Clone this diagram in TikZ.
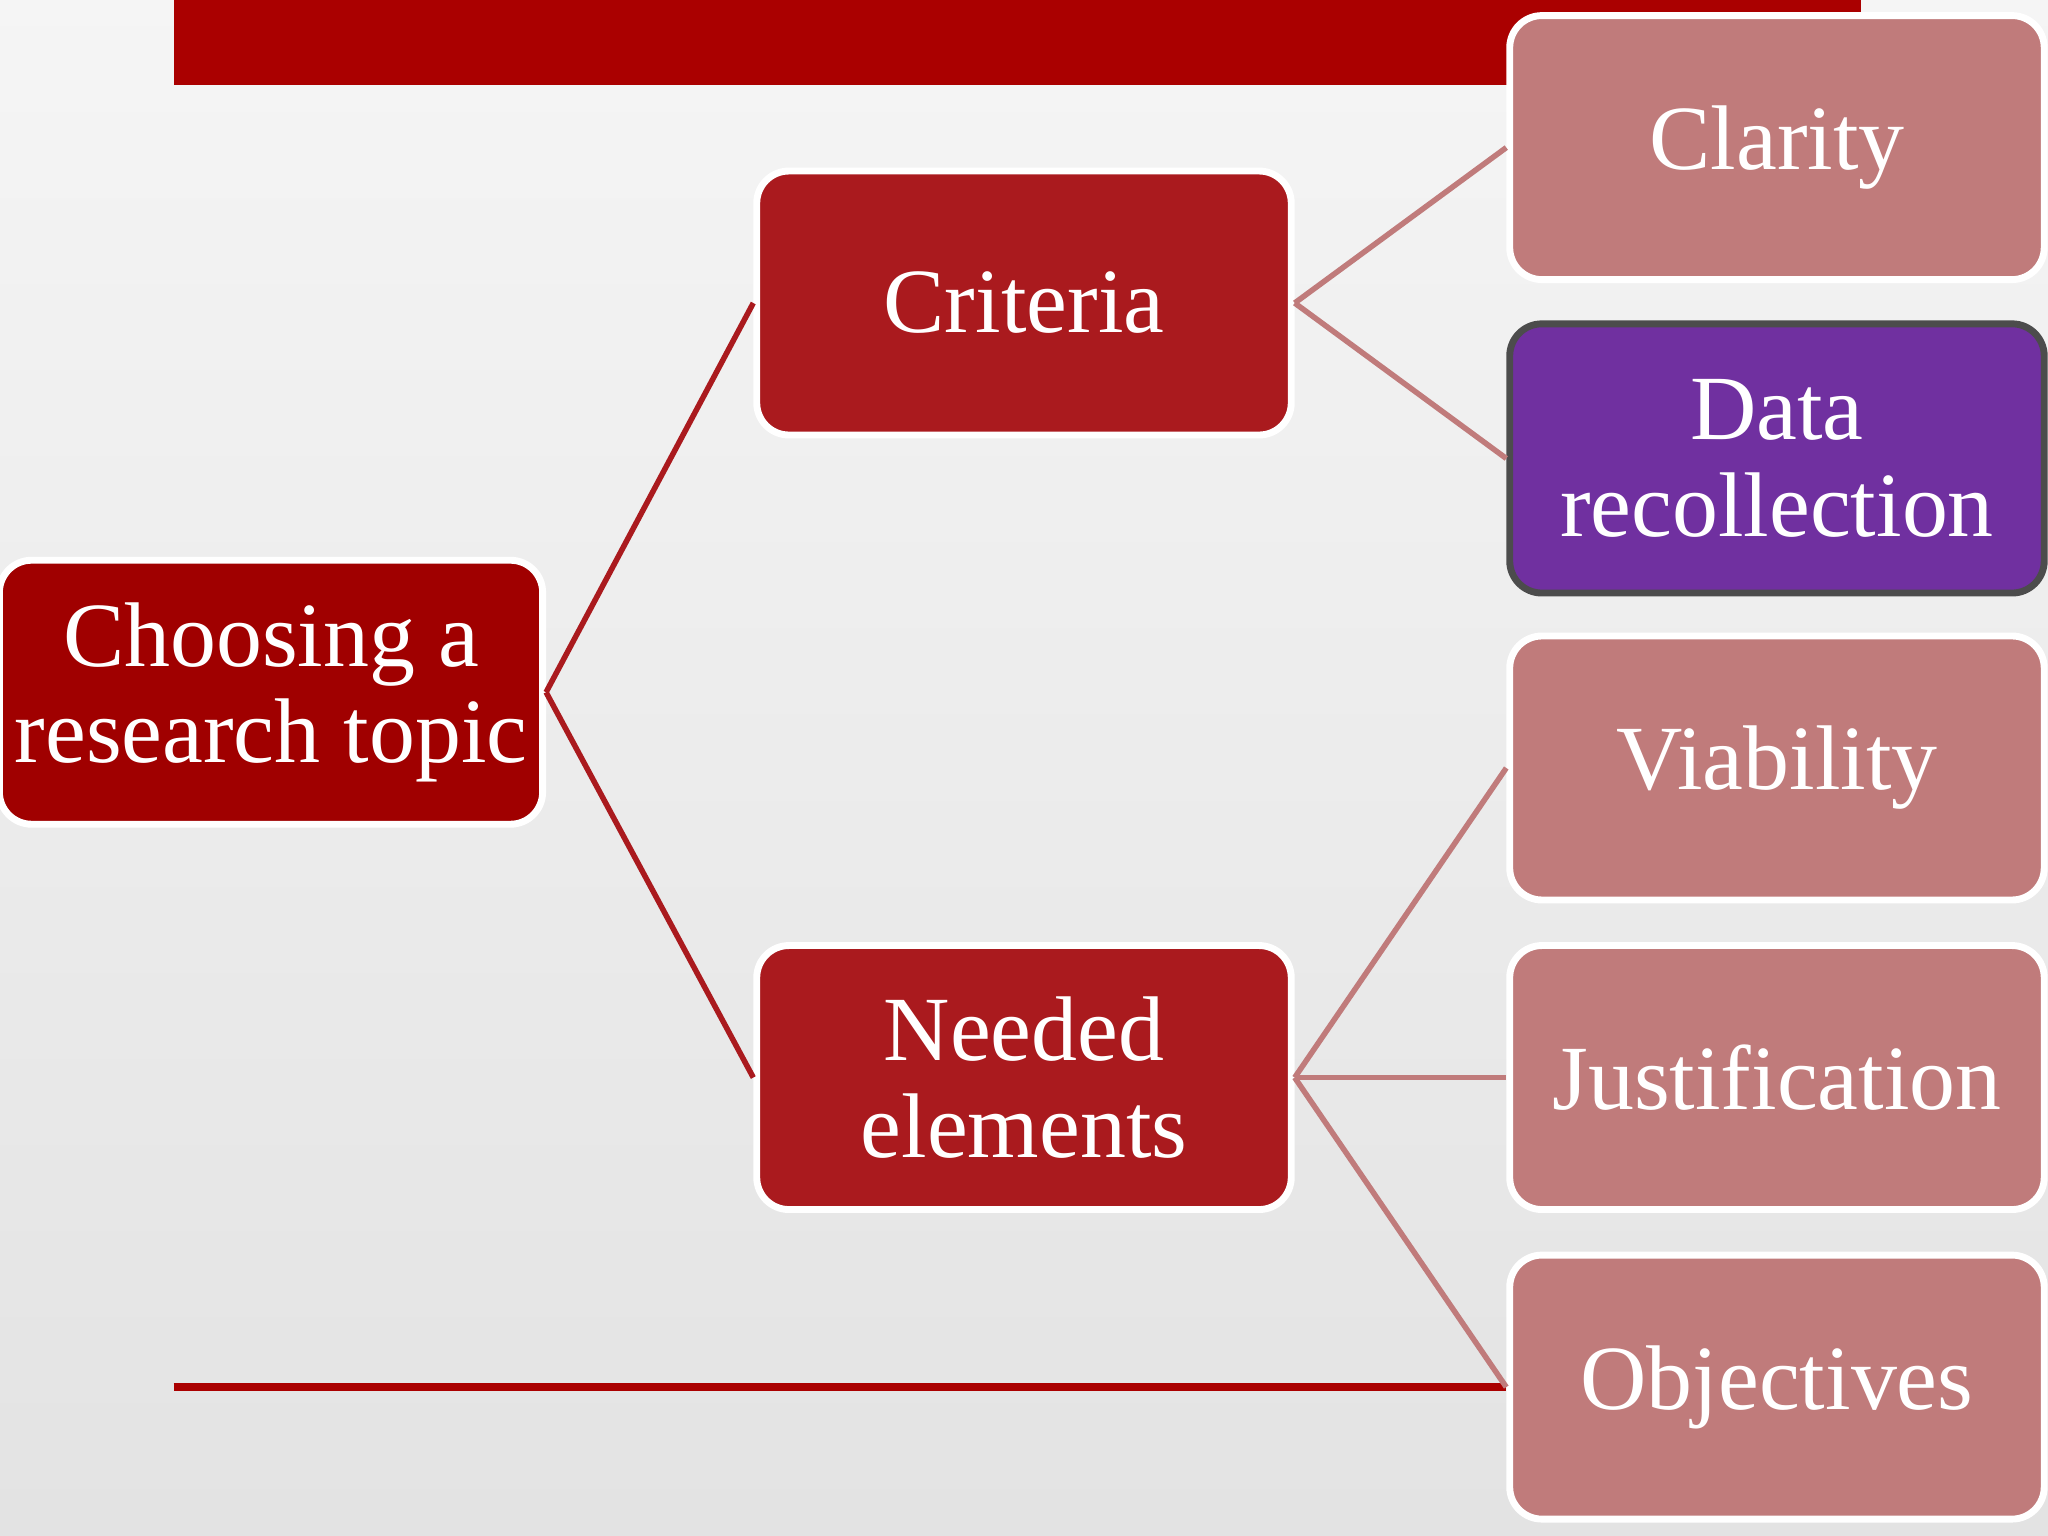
\documentclass[tikz,border=0pt]{standalone}
\usepackage{fontspec}
\setmainfont{Liberation Serif}
\usetikzlibrary{positioning}
\definecolor{barred}{HTML}{AA0000}
\definecolor{rootred}{HTML}{A00000}
\definecolor{midred}{HTML}{AA1A1E}
\definecolor{leafred}{HTML}{C07B7B}
\definecolor{leafpurple}{HTML}{7030A0}
\tikzset{
	box/.style={rounded corners=7pt, draw=white, line width=1.5pt, text=white,
		minimum width=4.09cm, minimum height=2.02cm, align=center,
		font=\fontsize{20}{21}\selectfont},
	link/.style={line width=1.2pt}
}
\begin{document}
\begin{tikzpicture}[x=0.01cm,y=-0.01cm]
		\useasboundingbox (0,0) rectangle (1568,1176);
		\fill[top color=gray!8, bottom color=gray!22] (0,0) rectangle (1568,1176);
		\fill[barred] (133,0) rectangle (1425,65);
		
		\node[box, fill=rootred] (topic) at (207.5,530) {Choosing a\\research topic};
		\node[box, fill=midred] (crit) at (784,232) {Criteria};
		\node[box, fill=midred] (need) at (784,825) {Needed\\elements};
		\node[box, fill=leafred] (clar) at (1360.5,113) {Clarity};
		\node[box, fill=leafpurple, draw=black!70, minimum height=2.06cm] (data) at (1360.5,351) {Data\\recollection};
		\node[box, fill=leafred] (viab) at (1360.5,588) {Viability};
		\node[box, fill=leafred] (just) at (1360.5,825) {Justification};
		\node[box, fill=leafred] (obj) at (1360.5,1062) {Objectives};
		\coordinate (baseend) at (133,1062);
		
		\draw[barred, line width=1.8pt] (baseend) -- (obj.west);
		\draw[link, midred] (topic.east) -- (crit.west);
		\draw[link, midred] (topic.east) -- (need.west);
		\draw[link, leafred] (crit.east) -- (clar.west);
		\draw[link, leafred] (crit.east) -- (data.west);
		\draw[link, leafred] (need.east) -- (viab.west);
		\draw[link, leafred] (need.east) -- (just.west);
		\draw[link, leafred] (need.east) -- (obj.west);
	\end{tikzpicture}
\end{document}
